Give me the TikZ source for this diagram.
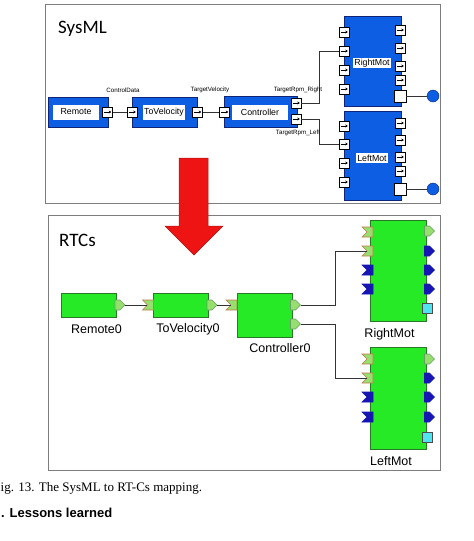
\documentclass[tikz,border=0pt]{standalone}
\usepackage{fontspec}
\setmainfont{Liberation Sans}
\newfontfamily\titlefont{Carlito}
\newfontfamily\capfont{Liberation Serif}
\usetikzlibrary{shapes.symbols,arrows.meta}

\definecolor{framegray}{RGB}{125,125,125}
\definecolor{sysblue}{RGB}{14,94,228}
\definecolor{sysnavy}{RGB}{16,36,120}
\definecolor{rtcgreen}{RGB}{38,234,38}
\definecolor{rtcedge}{RGB}{40,120,40}
\definecolor{portgreen}{RGB}{150,222,110}
\definecolor{portedge}{RGB}{196,120,80}
\definecolor{svcblue}{RGB}{22,22,178}
\definecolor{svccyan}{RGB}{80,228,240}
\definecolor{arrowred}{RGB}{238,20,20}
\definecolor{arrowdark}{RGB}{170,20,20}

\begin{document}
\begin{tikzpicture}[x=1pt, y=-1pt,
  panel/.style={draw=framegray, line width=0.9pt},
  paneltitle/.style={anchor=west, inner sep=0, font=\titlefont\fontsize{19}{21}\selectfont},
  sysblock/.style={draw=sysnavy, fill=sysblue, line width=0.8pt, inner sep=0},
  syslabel/.style={fill=white, inner sep=1.5pt, minimum height=15pt, font=\fontsize{8.8}{9}\selectfont},
  sysport/.style={draw=black, fill=white, line width=0.5pt, minimum size=10pt, inner sep=0,
    path picture={\draw[line width=0.5pt, -{Stealth[length=2.5pt,width=3pt]}]
      ([xshift=1.5pt]path picture bounding box.west) -- ([xshift=-1.2pt]path picture bounding box.east);}},
  sysplain/.style={draw=black, fill=white, line width=0.5pt, minimum size=12pt, inner sep=0},
  sysend/.style={circle, draw=sysnavy, fill=sysblue, minimum size=12pt, inner sep=0},
  sysline/.style={draw=black!80, line width=0.6pt},
  flowlabel/.style={inner sep=0, font=\fontsize{6.2}{7}\selectfont},
  rtcblock/.style={draw=rtcedge, fill=rtcgreen, line width=0.8pt, inner sep=0},
  rtclabel/.style={inner sep=0, font=\fontsize{12.5}{14}\selectfont},
  inport/.style={signal, signal from=west, signal to=nowhere, draw=portedge, fill=portgreen,
    line width=0.6pt, minimum width=11pt, minimum height=10pt, inner sep=0},
  outport/.style={signal, signal to=east, signal from=nowhere, draw=rtcedge!70, fill=portgreen,
    line width=0.6pt, minimum width=10pt, minimum height=10pt, inner sep=0},
  svcin/.style={inport, draw=svcblue, fill=svcblue},
  svcout/.style={outport, draw=svcblue, fill=svcblue},
  cfgport/.style={draw=black!70, fill=svccyan, line width=0.6pt, minimum size=10pt, inner sep=0},
  rtcline/.style={draw=black!80, line width=0.8pt}]

\useasboundingbox[fill=white] (0,0) rectangle (474,541);

% panels
\draw[panel] (45,4) rectangle (440,203);
\draw[panel] (48,215) rectangle (440,470);
\node[paneltitle] (sysmltitle) at (58,29) {SysML};
\node[paneltitle] (rtctitle) at (59,240) {RTCs};

% SysML blocks
\node[sysblock, minimum width=60pt, minimum height=30pt] (remote) at (78,112) {};
\node[syslabel, minimum width=46pt] (remotelbl) at (76,112) {Remote};
\node[sysport] (remoteo) at (107.5,112) {};

\node[sysblock, minimum width=65pt, minimum height=30pt] (tovel) at (164.5,112) {};
\node[syslabel] (tovellbl) at (164,112) {ToVelocity};
\node[sysport] (toveli) at (132,112) {};
\node[sysport] (tovelo) at (197.5,112) {};

\node[sysblock, minimum width=73pt, minimum height=31pt] (ctrl) at (260.5,112) {};
\node[syslabel, minimum width=56pt] (ctrllbl) at (260,112) {Controller};
\node[sysport] (ctrli) at (224.5,112) {};
\node[sysport] (ctrlo1) at (296,103) {};
\node[sysport] (ctrlo2) at (296,119) {};

\node[sysblock, minimum width=57pt, minimum height=90pt] (rmot) at (372.5,61) {};
\node[syslabel, minimum height=10pt, inner sep=1pt] (rmotlbl) at (372,63) {RightMot};
\foreach \y [count=\i] in {32,51,70,89}
  \node[sysport] (rmotl\i) at (344,\y) {};
\foreach \y [count=\i] in {30,48,66,80}
  \node[sysport] (rmotr\i) at (400,\y) {};
\node[sysplain] (rmotr5) at (400,96) {};
\node[sysend] (rmotend) at (433,96) {};

\node[sysblock, minimum width=57pt, minimum height=89pt] (lmot) at (372.5,155.5) {};
\node[syslabel, minimum height=10pt, inner sep=1pt] (lmotlbl) at (372,158) {LeftMot};
\foreach \y [count=\i] in {126,144,163,182}
  \node[sysport] (lmotl\i) at (344,\y) {};
\foreach \y [count=\i] in {123,140,157,171}
  \node[sysport] (lmotr\i) at (400,\y) {};
\node[sysplain] (lmotr5) at (400,189) {};
\node[sysend] (lmotend) at (433,189) {};

% SysML flows
\path[sysline]
  (remoteo.east) edge (toveli.west)
  (tovelo.east)  edge (ctrli.west)
  (rmotr5.east)  edge (rmotend.west)
  (lmotr5.east)  edge (lmotend.west);
\draw[sysline] (ctrlo1.east) -- ++(18.5,0) |- (rmotl2.west);
\draw[sysline] (ctrlo2.east) -- ++(18.5,0) |- (lmotl2.west);
\node[flowlabel] (cdlbl) at (123,90) {ControlData};
\node[flowlabel] (tvlbl) at (210,90) {TargetVelocity};
\node[flowlabel] (trlbl) at (298,90) {TargetRpm\_Right};
\node[flowlabel] (tllbl) at (298,133) {TargetRpm\_Left};

% RTC blocks
\node[rtcblock, minimum width=55pt, minimum height=24pt] (remote0) at (88.5,305) {};
\node[outport] (remote0o) at (117.5,305) {};
\node[rtclabel] (remote0lbl) at (96.5,329) {Remote0};

\node[rtcblock, minimum width=55pt, minimum height=24pt] (tovel0) at (180.5,305) {};
\node[inport] (tovel0i) at (150.5,305) {};
\node[outport] (tovel0o) at (209.5,305) {};
\node[rtclabel] (tovel0lbl) at (188,329) {ToVelocity0};

\node[rtcblock, minimum width=55pt, minimum height=44pt] (ctrl0) at (264.5,315) {};
\node[inport] (ctrl0i) at (234,305) {};
\node[outport] (ctrl0o1) at (293,305) {};
\node[outport] (ctrl0o2) at (293,324) {};
\node[rtclabel] (ctrl0lbl) at (280,348) {Controller0};

\node[rtcblock, minimum width=56pt, minimum height=101pt] (rmot0) at (398,270.5) {};
\node[inport] (rmot0l1) at (370,232) {};
\node[inport] (rmot0l2) at (370,251) {};
\node[svcin] (rmot0l3) at (370,270) {};
\node[svcin] (rmot0l4) at (370,289) {};
\node[outport] (rmot0r1) at (427,231) {};
\foreach \y [count=\i from 2] in {251,270,289}
  \node[svcout] (rmot0r\i) at (427,\y) {};
\node[cfgport] (rmot0cfg) at (427,308) {};
\node[rtclabel] (rmot0lbl) at (389.5,334) {RightMot};

\node[rtcblock, minimum width=56pt, minimum height=102pt] (lmot0) at (398,398) {};
\node[inport] (lmot0l1) at (370,359) {};
\node[inport] (lmot0l2) at (370,378) {};
\node[svcin] (lmot0l3) at (370,397) {};
\node[svcin] (lmot0l4) at (370,417) {};
\node[outport] (lmot0r1) at (427,359) {};
\foreach \y [count=\i from 2] in {378,397,417}
  \node[svcout] (lmot0r\i) at (427,\y) {};
\node[cfgport] (lmot0cfg) at (427,437) {};
\node[rtclabel] (lmot0lbl) at (391,461) {LeftMot};

% RTC connections
\path[rtcline]
  (remote0o.east) edge (tovel0i.west)
  (tovel0o.east)  edge (ctrl0i.west);
\draw[rtcline] (ctrl0o1.east) -- ++(34,0) |- (rmot0l2.west);
\draw[rtcline] (ctrl0o2.east) -- ++(34,0) |- (lmot0l2.west);

% mapping arrow
\filldraw[fill=arrowred, draw=arrowdark, line width=0.5pt]
  (179,158) -- (208,158) -- (208,226) -- (223,226) -- (194,255) -- (165,226) -- (179,226) -- cycle;

% caption
\node[anchor=west, inner sep=0, font=\capfont\fontsize{13}{15}\selectfont] (caption) at (0.5,488) {ig. 13. The SysML to RT-Cs mapping.};
\node[anchor=west, inner sep=0, font=\bfseries\fontsize{13}{15}\selectfont] (heading) at (1,513) {. Lessons learned};
\end{tikzpicture}
\end{document}
